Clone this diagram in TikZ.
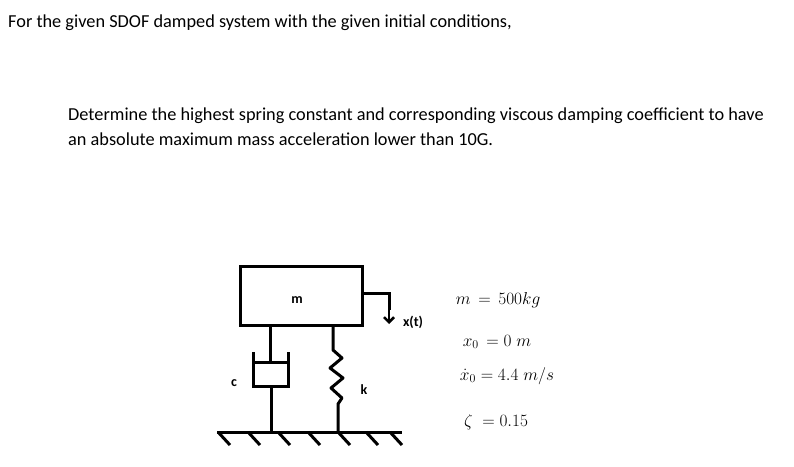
\documentclass[tikz,border=0pt]{standalone}
\usepackage{fontspec}
\setmainfont{Carlito}
\usetikzlibrary{arrows.meta}
\begin{document}
\begin{tikzpicture}[x=1pt,y=-1pt,
  thick/.style={line width=3pt},
  txt/.style={anchor=base west,inner sep=0pt,font=\fontsize{18.3}{22}\selectfont},
  lbl/.style={inner sep=0pt,font=\bfseries\fontsize{14}{16}\selectfont},
  eq/.style={inner sep=0pt,font=\fontsize{17}{19}\selectfont}]
\useasboundingbox (0,0) rectangle (794,466);
\node[txt] (t1) at (8,27) {For the given SDOF damped system with the given initial conditions,};
\node[txt] (t2) at (68,120) {Determine the highest spring constant and corresponding viscous damping coefficient to have};
\node[txt] (t3) at (68,145) {an absolute maximum mass acceleration lower than 10G.};
% mass
\node[draw,line width=3pt,minimum width=122pt,minimum height=59pt,inner sep=0pt] (m) at (301.5,295.5) {};
\node[lbl] (ml) at (297,300) {m};
\coordinate (a0) at (362,293);
\coordinate (a1) at (389,293);
\coordinate (a2) at (389,324);
\draw[line width=3pt] (a0) -- (a1) -- (389,310);
\draw[line width=2.5pt,-{Straight Barb[length=5pt,width=10pt]}] (389,305) -- (a2);
\node[lbl] (xl) at (413,322) {x(t)};
% damper
\coordinate (d0) at (270,325);
\coordinate (d1) at (270,362);
\draw[thick] (d0) -- (d1);
\draw[thick] (253,362) -- (287,362);
\draw[thick] (253,352) -- (253,386) -- (288,386) -- (288,352);
\coordinate (d2) at (271,386);
\coordinate (g1) at (271,432);
\draw[thick] (d2) -- (g1);
\node[lbl] (cl) at (234,383) {c};
% spring
\coordinate (s0) at (333,325);
\coordinate (g2) at (338,432);
\draw[thick,line join=round] (s0) -- (333,350) -- (342,358) -- (330,368) -- (343,378) -- (331,388) -- (342,398) -- (338,404) -- (g2);
\node[lbl] (kl) at (364,390) {k};
% ground
\draw[thick] (217,432) -- (402,432);
\foreach \x in {218,248,278,308,338,366,390}
  \draw[thick] (\x,432) -- (\x+12,445);
% equations
\node[eq,anchor=base] (e1) at (498,304) {$m\,=\,500kg$};
\node[eq,anchor=base] (e2) at (497,346) {$x_0\,=0\;m$};
\node[eq,anchor=base] (e3) at (507,380) {$\dot x_0=4.4\;m/s$};
\node[eq,anchor=base] (e4) at (496,426) {$\zeta\;=0.15$};
\end{tikzpicture}
\end{document}
